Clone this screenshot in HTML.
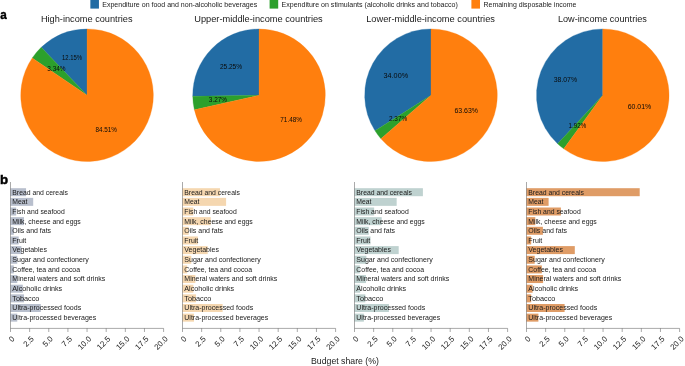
<!DOCTYPE html>
<html><head><meta charset="utf-8"><title>Budget share</title>
<style>
html,body{margin:0;padding:0;background:#fff;}
body{width:685px;height:366px;overflow:hidden;font-family:"Liberation Sans", sans-serif;}
svg{display:block}
text{font-family:"Liberation Sans", sans-serif;fill:#1a1a1a;}
.bl{font-size:7px;}
.tk{font-size:7.9px;}
.ti{font-size:9.35px;}
.lg{font-size:7.3px;}
.pc{font-size:6.8px;fill:#0a0a0a}
</style></head><body>
<svg width="685" height="366" viewBox="0 0 685 366">
<rect width="685" height="366" fill="#fff"/>

<rect x="90.35" y="-1" width="8.6" height="9.6" fill="#226ca4"/>
<text class="lg" x="102.2" y="6.55" textLength="155.0" lengthAdjust="spacingAndGlyphs">Expenditure on food and non-alcoholic beverages</text>
<rect x="269.6" y="-1" width="8.6" height="9.6" fill="#2ca02c"/>
<text class="lg" x="281.5" y="6.55" textLength="176.3" lengthAdjust="spacingAndGlyphs">Expenditure on stimulants (alcoholic drinks and tobacco)</text>
<rect x="471.4" y="-1" width="8.6" height="9.6" fill="#ff7f0e"/>
<text class="lg" x="483.5" y="6.55" textLength="92.8" lengthAdjust="spacingAndGlyphs">Remaining disposable income</text>
<text x="0.3" y="18.8" textLength="6.5" lengthAdjust="spacingAndGlyphs" style="font-size:13.6px;font-weight:bold;fill:#000;stroke:#000;stroke-width:0.45px">a</text>
<text x="0" y="183.9" textLength="8.1" lengthAdjust="spacingAndGlyphs" style="font-size:12.6px;font-weight:bold;fill:#000;stroke:#000;stroke-width:0.45px">b</text>
<text class="ti" x="86.7" y="21.5" text-anchor="middle" textLength="91.6" lengthAdjust="spacingAndGlyphs">High-income countries</text>
<path d="M87.05 95.25 L87.05 28.95 A66.3 66.3 0 0 0 41.21 47.35 Z" fill="#226ca4" stroke="#226ca4" stroke-width="0.3"/>
<path d="M87.05 95.25 L41.21 47.35 A66.3 66.3 0 0 0 32.24 57.95 Z" fill="#2ca02c" stroke="#2ca02c" stroke-width="0.3"/>
<path d="M87.05 95.25 L32.24 57.95 A66.3 66.3 0 1 0 87.05 28.95 Z" fill="#ff7f0e" stroke="#ff7f0e" stroke-width="0.3"/>
<text class="pc" x="62.05" y="60.30" textLength="20.10" lengthAdjust="spacingAndGlyphs">12.15%</text>
<text class="pc" x="47.25" y="71.00" textLength="18.30" lengthAdjust="spacingAndGlyphs">3.34%</text>
<text class="pc" x="95.51" y="132.07" textLength="21.50" lengthAdjust="spacingAndGlyphs">84.51%</text>
<text class="ti" x="258.5" y="21.5" text-anchor="middle" textLength="128.5" lengthAdjust="spacingAndGlyphs">Upper-middle-income countries</text>
<path d="M259.05 95.25 L259.05 28.95 A66.3 66.3 0 0 0 192.76 96.29 Z" fill="#226ca4" stroke="#226ca4" stroke-width="0.3"/>
<path d="M259.05 95.25 L192.76 96.29 A66.3 66.3 0 0 0 194.36 109.79 Z" fill="#2ca02c" stroke="#2ca02c" stroke-width="0.3"/>
<path d="M259.05 95.25 L194.36 109.79 A66.3 66.3 0 1 0 259.05 28.95 Z" fill="#ff7f0e" stroke="#ff7f0e" stroke-width="0.3"/>
<text class="pc" x="219.89" y="68.83" textLength="22.20" lengthAdjust="spacingAndGlyphs">25.25%</text>
<text class="pc" x="208.84" y="101.64" textLength="18.20" lengthAdjust="spacingAndGlyphs">3.27%</text>
<text class="pc" x="280.33" y="121.63" textLength="21.50" lengthAdjust="spacingAndGlyphs">71.48%</text>
<text class="ti" x="430.55" y="21.5" text-anchor="middle" textLength="128.8" lengthAdjust="spacingAndGlyphs">Lower-middle-income countries</text>
<path d="M431.0 95.25 L431.00 28.95 A66.3 66.3 0 0 0 375.02 130.78 Z" fill="#226ca4" stroke="#226ca4" stroke-width="0.3"/>
<path d="M431.0 95.25 L375.02 130.78 A66.3 66.3 0 0 0 380.91 138.69 Z" fill="#2ca02c" stroke="#2ca02c" stroke-width="0.3"/>
<path d="M431.0 95.25 L380.91 138.69 A66.3 66.3 0 1 0 431.00 28.95 Z" fill="#ff7f0e" stroke="#ff7f0e" stroke-width="0.3"/>
<text class="pc" x="383.59" y="77.69" textLength="24.50" lengthAdjust="spacingAndGlyphs">34.00%</text>
<text class="pc" x="389.01" y="120.58" textLength="18.20" lengthAdjust="spacingAndGlyphs">2.37%</text>
<text class="pc" x="454.46" y="113.20" textLength="23.60" lengthAdjust="spacingAndGlyphs">63.63%</text>
<text class="ti" x="602.4" y="21.5" text-anchor="middle" textLength="89.0" lengthAdjust="spacingAndGlyphs">Low-income countries</text>
<path d="M602.75 95.25 L602.75 28.95 A66.3 66.3 0 0 0 557.58 143.78 Z" fill="#226ca4" stroke="#226ca4" stroke-width="0.3"/>
<path d="M602.75 95.25 L557.58 143.78 A66.3 66.3 0 0 0 563.75 148.86 Z" fill="#2ca02c" stroke="#2ca02c" stroke-width="0.3"/>
<path d="M602.75 95.25 L563.75 148.86 A66.3 66.3 0 1 0 602.75 28.95 Z" fill="#ff7f0e" stroke="#ff7f0e" stroke-width="0.3"/>
<text class="pc" x="553.76" y="81.72" textLength="23.30" lengthAdjust="spacingAndGlyphs">38.07%</text>
<text class="pc" x="568.58" y="127.77" textLength="17.60" lengthAdjust="spacingAndGlyphs">1.92%</text>
<text class="pc" x="627.70" y="109.44" textLength="23.50" lengthAdjust="spacingAndGlyphs">60.01%</text>
<rect x="10.5" y="188.20" width="15.56" height="8.00" fill="#b8bfcd"/>
<rect x="10.5" y="197.85" width="22.70" height="8.00" fill="#b8bfcd"/>
<rect x="10.5" y="207.50" width="5.70" height="8.00" fill="#b8bfcd"/>
<rect x="10.5" y="217.15" width="13.50" height="8.00" fill="#b8bfcd"/>
<rect x="10.5" y="226.80" width="3.30" height="8.00" fill="#b8bfcd"/>
<rect x="10.5" y="236.45" width="8.20" height="8.00" fill="#b8bfcd"/>
<rect x="10.5" y="246.10" width="10.85" height="8.00" fill="#b8bfcd"/>
<rect x="10.5" y="255.75" width="6.76" height="8.00" fill="#b8bfcd"/>
<rect x="10.5" y="265.40" width="3.30" height="8.00" fill="#b8bfcd"/>
<rect x="10.5" y="275.05" width="6.76" height="8.00" fill="#b8bfcd"/>
<rect x="10.5" y="284.70" width="12.30" height="8.00" fill="#b8bfcd"/>
<rect x="10.5" y="294.35" width="13.50" height="8.00" fill="#b8bfcd"/>
<rect x="10.5" y="304.00" width="30.30" height="8.00" fill="#b8bfcd"/>
<rect x="10.5" y="313.65" width="6.76" height="8.00" fill="#b8bfcd"/>
<text class="bl" x="12.30" y="194.55" textLength="55.6" lengthAdjust="spacingAndGlyphs">Bread and cereals</text>
<text class="bl" x="12.30" y="204.20" textLength="15.2" lengthAdjust="spacingAndGlyphs">Meat</text>
<text class="bl" x="12.30" y="213.85" textLength="52.4" lengthAdjust="spacingAndGlyphs">Fish and seafood</text>
<text class="bl" x="12.30" y="223.50" textLength="68.5" lengthAdjust="spacingAndGlyphs">Milk, cheese and eggs</text>
<text class="bl" x="12.30" y="233.15" textLength="38.8" lengthAdjust="spacingAndGlyphs">Oils and fats</text>
<text class="bl" x="12.30" y="242.80" textLength="14.0" lengthAdjust="spacingAndGlyphs">Fruit</text>
<text class="bl" x="12.30" y="252.45" textLength="34.7" lengthAdjust="spacingAndGlyphs">Vegetables</text>
<text class="bl" x="12.30" y="262.10" textLength="76.5" lengthAdjust="spacingAndGlyphs">Sugar and confectionery</text>
<text class="bl" x="12.30" y="271.75" textLength="67.8" lengthAdjust="spacingAndGlyphs">Coffee, tea and cocoa</text>
<text class="bl" x="12.30" y="281.40" textLength="93.0" lengthAdjust="spacingAndGlyphs">Mineral waters and soft drinks</text>
<text class="bl" x="12.30" y="291.05" textLength="49.9" lengthAdjust="spacingAndGlyphs">Alcoholic drinks</text>
<text class="bl" x="12.30" y="300.70" textLength="27.1" lengthAdjust="spacingAndGlyphs">Tobacco</text>
<text class="bl" x="12.30" y="310.35" textLength="68.9" lengthAdjust="spacingAndGlyphs">Ultra-processed foods</text>
<text class="bl" x="12.30" y="320.00" textLength="83.9" lengthAdjust="spacingAndGlyphs">Ultra-processed beverages</text>
<path d="M10.5 182.0 V328.4 H163.6" fill="none" stroke="#444" stroke-width="0.46"/>
<path d="M10.50 328.4 v3.6" stroke="#444" stroke-width="0.46"/>
<text class="tk" text-anchor="end" transform="translate(15.20,339.40) rotate(-45)">0</text>
<path d="M29.64 328.4 v3.6" stroke="#444" stroke-width="0.46"/>
<text class="tk" text-anchor="end" transform="translate(34.34,339.40) rotate(-45)">2.5</text>
<path d="M48.77 328.4 v3.6" stroke="#444" stroke-width="0.46"/>
<text class="tk" text-anchor="end" transform="translate(53.48,339.40) rotate(-45)">5.0</text>
<path d="M67.91 328.4 v3.6" stroke="#444" stroke-width="0.46"/>
<text class="tk" text-anchor="end" transform="translate(72.61,339.40) rotate(-45)">7.5</text>
<path d="M87.05 328.4 v3.6" stroke="#444" stroke-width="0.46"/>
<text class="tk" text-anchor="end" transform="translate(91.75,339.40) rotate(-45)">10.0</text>
<path d="M106.19 328.4 v3.6" stroke="#444" stroke-width="0.46"/>
<text class="tk" text-anchor="end" transform="translate(110.89,339.40) rotate(-45)">12.5</text>
<path d="M125.33 328.4 v3.6" stroke="#444" stroke-width="0.46"/>
<text class="tk" text-anchor="end" transform="translate(130.03,339.40) rotate(-45)">15.0</text>
<path d="M144.46 328.4 v3.6" stroke="#444" stroke-width="0.46"/>
<text class="tk" text-anchor="end" transform="translate(149.16,339.40) rotate(-45)">17.5</text>
<path d="M163.60 328.4 v3.6" stroke="#444" stroke-width="0.46"/>
<text class="tk" text-anchor="end" transform="translate(168.30,339.40) rotate(-45)">20.0</text>
<rect x="182.5" y="188.20" width="37.46" height="8.00" fill="#f5d7b0"/>
<rect x="182.5" y="197.85" width="43.60" height="8.00" fill="#f5d7b0"/>
<rect x="182.5" y="207.50" width="10.85" height="8.00" fill="#f5d7b0"/>
<rect x="182.5" y="217.15" width="28.25" height="8.00" fill="#f5d7b0"/>
<rect x="182.5" y="226.80" width="6.14" height="8.00" fill="#f5d7b0"/>
<rect x="182.5" y="236.45" width="15.35" height="8.00" fill="#f5d7b0"/>
<rect x="182.5" y="246.10" width="25.20" height="8.00" fill="#f5d7b0"/>
<rect x="182.5" y="255.75" width="8.80" height="8.00" fill="#f5d7b0"/>
<rect x="182.5" y="265.40" width="4.70" height="8.00" fill="#f5d7b0"/>
<rect x="182.5" y="275.05" width="12.90" height="8.00" fill="#f5d7b0"/>
<rect x="182.5" y="284.70" width="10.85" height="8.00" fill="#f5d7b0"/>
<rect x="182.5" y="294.35" width="13.50" height="8.00" fill="#f5d7b0"/>
<rect x="182.5" y="304.00" width="40.10" height="8.00" fill="#f5d7b0"/>
<rect x="182.5" y="313.65" width="11.50" height="8.00" fill="#f5d7b0"/>
<text class="bl" x="184.30" y="194.55" textLength="55.6" lengthAdjust="spacingAndGlyphs">Bread and cereals</text>
<text class="bl" x="184.30" y="204.20" textLength="15.2" lengthAdjust="spacingAndGlyphs">Meat</text>
<text class="bl" x="184.30" y="213.85" textLength="52.4" lengthAdjust="spacingAndGlyphs">Fish and seafood</text>
<text class="bl" x="184.30" y="223.50" textLength="68.5" lengthAdjust="spacingAndGlyphs">Milk, cheese and eggs</text>
<text class="bl" x="184.30" y="233.15" textLength="38.8" lengthAdjust="spacingAndGlyphs">Oils and fats</text>
<text class="bl" x="184.30" y="242.80" textLength="14.0" lengthAdjust="spacingAndGlyphs">Fruit</text>
<text class="bl" x="184.30" y="252.45" textLength="34.7" lengthAdjust="spacingAndGlyphs">Vegetables</text>
<text class="bl" x="184.30" y="262.10" textLength="76.5" lengthAdjust="spacingAndGlyphs">Sugar and confectionery</text>
<text class="bl" x="184.30" y="271.75" textLength="67.8" lengthAdjust="spacingAndGlyphs">Coffee, tea and cocoa</text>
<text class="bl" x="184.30" y="281.40" textLength="93.0" lengthAdjust="spacingAndGlyphs">Mineral waters and soft drinks</text>
<text class="bl" x="184.30" y="291.05" textLength="49.9" lengthAdjust="spacingAndGlyphs">Alcoholic drinks</text>
<text class="bl" x="184.30" y="300.70" textLength="27.1" lengthAdjust="spacingAndGlyphs">Tobacco</text>
<text class="bl" x="184.30" y="310.35" textLength="68.9" lengthAdjust="spacingAndGlyphs">Ultra-processed foods</text>
<text class="bl" x="184.30" y="320.00" textLength="83.9" lengthAdjust="spacingAndGlyphs">Ultra-processed beverages</text>
<path d="M182.5 182.0 V328.4 H335.6" fill="none" stroke="#444" stroke-width="0.46"/>
<path d="M182.50 328.4 v3.6" stroke="#444" stroke-width="0.46"/>
<text class="tk" text-anchor="end" transform="translate(187.20,339.40) rotate(-45)">0</text>
<path d="M201.64 328.4 v3.6" stroke="#444" stroke-width="0.46"/>
<text class="tk" text-anchor="end" transform="translate(206.34,339.40) rotate(-45)">2.5</text>
<path d="M220.78 328.4 v3.6" stroke="#444" stroke-width="0.46"/>
<text class="tk" text-anchor="end" transform="translate(225.47,339.40) rotate(-45)">5.0</text>
<path d="M239.91 328.4 v3.6" stroke="#444" stroke-width="0.46"/>
<text class="tk" text-anchor="end" transform="translate(244.61,339.40) rotate(-45)">7.5</text>
<path d="M259.05 328.4 v3.6" stroke="#444" stroke-width="0.46"/>
<text class="tk" text-anchor="end" transform="translate(263.75,339.40) rotate(-45)">10.0</text>
<path d="M278.19 328.4 v3.6" stroke="#444" stroke-width="0.46"/>
<text class="tk" text-anchor="end" transform="translate(282.89,339.40) rotate(-45)">12.5</text>
<path d="M297.32 328.4 v3.6" stroke="#444" stroke-width="0.46"/>
<text class="tk" text-anchor="end" transform="translate(302.02,339.40) rotate(-45)">15.0</text>
<path d="M316.46 328.4 v3.6" stroke="#444" stroke-width="0.46"/>
<text class="tk" text-anchor="end" transform="translate(321.16,339.40) rotate(-45)">17.5</text>
<path d="M335.60 328.4 v3.6" stroke="#444" stroke-width="0.46"/>
<text class="tk" text-anchor="end" transform="translate(340.30,339.40) rotate(-45)">20.0</text>
<rect x="354.5" y="188.20" width="68.40" height="8.00" fill="#bfd2d0"/>
<rect x="354.5" y="197.85" width="42.16" height="8.00" fill="#bfd2d0"/>
<rect x="354.5" y="207.50" width="19.65" height="8.00" fill="#bfd2d0"/>
<rect x="354.5" y="217.15" width="27.20" height="8.00" fill="#bfd2d0"/>
<rect x="354.5" y="226.80" width="14.30" height="8.00" fill="#bfd2d0"/>
<rect x="354.5" y="236.45" width="16.00" height="8.00" fill="#bfd2d0"/>
<rect x="354.5" y="246.10" width="44.20" height="8.00" fill="#bfd2d0"/>
<rect x="354.5" y="255.75" width="11.90" height="8.00" fill="#bfd2d0"/>
<rect x="354.5" y="265.40" width="5.30" height="8.00" fill="#bfd2d0"/>
<rect x="354.5" y="275.05" width="11.50" height="8.00" fill="#bfd2d0"/>
<rect x="354.5" y="284.70" width="5.70" height="8.00" fill="#bfd2d0"/>
<rect x="354.5" y="294.35" width="10.85" height="8.00" fill="#bfd2d0"/>
<rect x="354.5" y="304.00" width="34.40" height="8.00" fill="#bfd2d0"/>
<rect x="354.5" y="313.65" width="9.40" height="8.00" fill="#bfd2d0"/>
<text class="bl" x="356.30" y="194.55" textLength="55.6" lengthAdjust="spacingAndGlyphs">Bread and cereals</text>
<text class="bl" x="356.30" y="204.20" textLength="15.2" lengthAdjust="spacingAndGlyphs">Meat</text>
<text class="bl" x="356.30" y="213.85" textLength="52.4" lengthAdjust="spacingAndGlyphs">Fish and seafood</text>
<text class="bl" x="356.30" y="223.50" textLength="68.5" lengthAdjust="spacingAndGlyphs">Milk, cheese and eggs</text>
<text class="bl" x="356.30" y="233.15" textLength="38.8" lengthAdjust="spacingAndGlyphs">Oils and fats</text>
<text class="bl" x="356.30" y="242.80" textLength="14.0" lengthAdjust="spacingAndGlyphs">Fruit</text>
<text class="bl" x="356.30" y="252.45" textLength="34.7" lengthAdjust="spacingAndGlyphs">Vegetables</text>
<text class="bl" x="356.30" y="262.10" textLength="76.5" lengthAdjust="spacingAndGlyphs">Sugar and confectionery</text>
<text class="bl" x="356.30" y="271.75" textLength="67.8" lengthAdjust="spacingAndGlyphs">Coffee, tea and cocoa</text>
<text class="bl" x="356.30" y="281.40" textLength="93.0" lengthAdjust="spacingAndGlyphs">Mineral waters and soft drinks</text>
<text class="bl" x="356.30" y="291.05" textLength="49.9" lengthAdjust="spacingAndGlyphs">Alcoholic drinks</text>
<text class="bl" x="356.30" y="300.70" textLength="27.1" lengthAdjust="spacingAndGlyphs">Tobacco</text>
<text class="bl" x="356.30" y="310.35" textLength="68.9" lengthAdjust="spacingAndGlyphs">Ultra-processed foods</text>
<text class="bl" x="356.30" y="320.00" textLength="83.9" lengthAdjust="spacingAndGlyphs">Ultra-processed beverages</text>
<path d="M354.5 182.0 V328.4 H507.6" fill="none" stroke="#444" stroke-width="0.46"/>
<path d="M354.50 328.4 v3.6" stroke="#444" stroke-width="0.46"/>
<text class="tk" text-anchor="end" transform="translate(359.20,339.40) rotate(-45)">0</text>
<path d="M373.64 328.4 v3.6" stroke="#444" stroke-width="0.46"/>
<text class="tk" text-anchor="end" transform="translate(378.34,339.40) rotate(-45)">2.5</text>
<path d="M392.77 328.4 v3.6" stroke="#444" stroke-width="0.46"/>
<text class="tk" text-anchor="end" transform="translate(397.47,339.40) rotate(-45)">5.0</text>
<path d="M411.91 328.4 v3.6" stroke="#444" stroke-width="0.46"/>
<text class="tk" text-anchor="end" transform="translate(416.61,339.40) rotate(-45)">7.5</text>
<path d="M431.05 328.4 v3.6" stroke="#444" stroke-width="0.46"/>
<text class="tk" text-anchor="end" transform="translate(435.75,339.40) rotate(-45)">10.0</text>
<path d="M450.19 328.4 v3.6" stroke="#444" stroke-width="0.46"/>
<text class="tk" text-anchor="end" transform="translate(454.89,339.40) rotate(-45)">12.5</text>
<path d="M469.32 328.4 v3.6" stroke="#444" stroke-width="0.46"/>
<text class="tk" text-anchor="end" transform="translate(474.02,339.40) rotate(-45)">15.0</text>
<path d="M488.46 328.4 v3.6" stroke="#444" stroke-width="0.46"/>
<text class="tk" text-anchor="end" transform="translate(493.16,339.40) rotate(-45)">17.5</text>
<path d="M507.60 328.4 v3.6" stroke="#444" stroke-width="0.46"/>
<text class="tk" text-anchor="end" transform="translate(512.30,339.40) rotate(-45)">20.0</text>
<rect x="526.5" y="188.20" width="113.20" height="8.00" fill="#df9c66"/>
<rect x="526.5" y="197.85" width="22.10" height="8.00" fill="#df9c66"/>
<rect x="526.5" y="207.50" width="34.40" height="8.00" fill="#df9c66"/>
<rect x="526.5" y="217.15" width="8.80" height="8.00" fill="#df9c66"/>
<rect x="526.5" y="226.80" width="16.40" height="8.00" fill="#df9c66"/>
<rect x="526.5" y="236.45" width="4.70" height="8.00" fill="#df9c66"/>
<rect x="526.5" y="246.10" width="48.30" height="8.00" fill="#df9c66"/>
<rect x="526.5" y="255.75" width="8.20" height="8.00" fill="#df9c66"/>
<rect x="526.5" y="265.40" width="15.35" height="8.00" fill="#df9c66"/>
<rect x="526.5" y="275.05" width="16.60" height="8.00" fill="#df9c66"/>
<rect x="526.5" y="284.70" width="6.10" height="8.00" fill="#df9c66"/>
<rect x="526.5" y="294.35" width="4.70" height="8.00" fill="#df9c66"/>
<rect x="526.5" y="304.00" width="38.10" height="8.00" fill="#df9c66"/>
<rect x="526.5" y="313.65" width="11.90" height="8.00" fill="#df9c66"/>
<text class="bl" x="528.30" y="194.55" textLength="55.6" lengthAdjust="spacingAndGlyphs">Bread and cereals</text>
<text class="bl" x="528.30" y="204.20" textLength="15.2" lengthAdjust="spacingAndGlyphs">Meat</text>
<text class="bl" x="528.30" y="213.85" textLength="52.4" lengthAdjust="spacingAndGlyphs">Fish and seafood</text>
<text class="bl" x="528.30" y="223.50" textLength="68.5" lengthAdjust="spacingAndGlyphs">Milk, cheese and eggs</text>
<text class="bl" x="528.30" y="233.15" textLength="38.8" lengthAdjust="spacingAndGlyphs">Oils and fats</text>
<text class="bl" x="528.30" y="242.80" textLength="14.0" lengthAdjust="spacingAndGlyphs">Fruit</text>
<text class="bl" x="528.30" y="252.45" textLength="34.7" lengthAdjust="spacingAndGlyphs">Vegetables</text>
<text class="bl" x="528.30" y="262.10" textLength="76.5" lengthAdjust="spacingAndGlyphs">Sugar and confectionery</text>
<text class="bl" x="528.30" y="271.75" textLength="67.8" lengthAdjust="spacingAndGlyphs">Coffee, tea and cocoa</text>
<text class="bl" x="528.30" y="281.40" textLength="93.0" lengthAdjust="spacingAndGlyphs">Mineral waters and soft drinks</text>
<text class="bl" x="528.30" y="291.05" textLength="49.9" lengthAdjust="spacingAndGlyphs">Alcoholic drinks</text>
<text class="bl" x="528.30" y="300.70" textLength="27.1" lengthAdjust="spacingAndGlyphs">Tobacco</text>
<text class="bl" x="528.30" y="310.35" textLength="68.9" lengthAdjust="spacingAndGlyphs">Ultra-processed foods</text>
<text class="bl" x="528.30" y="320.00" textLength="83.9" lengthAdjust="spacingAndGlyphs">Ultra-processed beverages</text>
<path d="M526.5 182.0 V328.4 H679.6" fill="none" stroke="#444" stroke-width="0.46"/>
<path d="M526.50 328.4 v3.6" stroke="#444" stroke-width="0.46"/>
<text class="tk" text-anchor="end" transform="translate(531.20,339.40) rotate(-45)">0</text>
<path d="M545.64 328.4 v3.6" stroke="#444" stroke-width="0.46"/>
<text class="tk" text-anchor="end" transform="translate(550.34,339.40) rotate(-45)">2.5</text>
<path d="M564.77 328.4 v3.6" stroke="#444" stroke-width="0.46"/>
<text class="tk" text-anchor="end" transform="translate(569.48,339.40) rotate(-45)">5.0</text>
<path d="M583.91 328.4 v3.6" stroke="#444" stroke-width="0.46"/>
<text class="tk" text-anchor="end" transform="translate(588.61,339.40) rotate(-45)">7.5</text>
<path d="M603.05 328.4 v3.6" stroke="#444" stroke-width="0.46"/>
<text class="tk" text-anchor="end" transform="translate(607.75,339.40) rotate(-45)">10.0</text>
<path d="M622.19 328.4 v3.6" stroke="#444" stroke-width="0.46"/>
<text class="tk" text-anchor="end" transform="translate(626.89,339.40) rotate(-45)">12.5</text>
<path d="M641.33 328.4 v3.6" stroke="#444" stroke-width="0.46"/>
<text class="tk" text-anchor="end" transform="translate(646.03,339.40) rotate(-45)">15.0</text>
<path d="M660.46 328.4 v3.6" stroke="#444" stroke-width="0.46"/>
<text class="tk" text-anchor="end" transform="translate(665.16,339.40) rotate(-45)">17.5</text>
<path d="M679.60 328.4 v3.6" stroke="#444" stroke-width="0.46"/>
<text class="tk" text-anchor="end" transform="translate(684.30,339.40) rotate(-45)">20.0</text>
<text x="345" y="363.6" text-anchor="middle" style="font-size:8.56px" textLength="67.9" lengthAdjust="spacingAndGlyphs">Budget share (%)</text>
</svg></body></html>
